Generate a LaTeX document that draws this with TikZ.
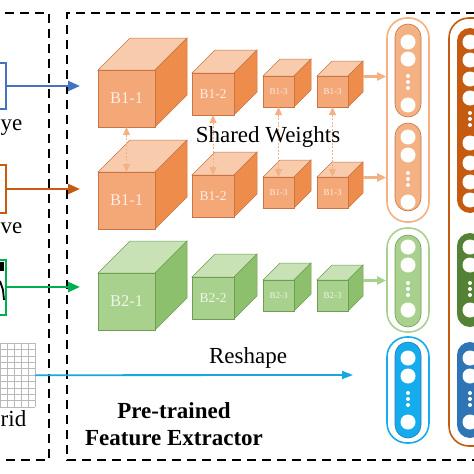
\documentclass[tikz,border=0pt]{standalone}
\usepackage{fontspec}
\setmainfont{Liberation Serif}
\usetikzlibrary{arrows.meta}

\definecolor{orF}{HTML}{F4A878}
\definecolor{orT}{HTML}{F8CBAD}
\definecolor{orS}{HTML}{EE8C4C}
\definecolor{orE}{HTML}{C97442}
\definecolor{orL}{HTML}{FDEDE2}
\definecolor{grF}{HTML}{A9D18E}
\definecolor{grT}{HTML}{C8E2B6}
\definecolor{grS}{HTML}{8DC06C}
\definecolor{grE}{HTML}{6F9E52}
\definecolor{grL}{HTML}{EEF6E8}
\definecolor{bevC}{HTML}{4472C4}
\definecolor{sideC}{HTML}{C55A11}
\definecolor{imgC}{HTML}{00B050}
\definecolor{gridC}{HTML}{1AA7E0}
\definecolor{ringO}{HTML}{F4B183}
\definecolor{ringG}{HTML}{A9D18E}
\definecolor{ringB}{HTML}{14ACEC}
\definecolor{fusO}{HTML}{C55A11}
\definecolor{fusG}{HTML}{548235}
\definecolor{fusB}{HTML}{2E75B6}

\def\TxtFont{\fontsize{23}{27}\selectfont}

\tikzset{
  pics/cube/.style n args={5}{
      code={
          \filldraw[fill=#3T, draw=#3E, line width=0.5pt] (0,0) -- (#2,-#2) -- (#1+#2,-#2) -- (#1,0) -- cycle;
          \filldraw[fill=#3S, draw=#3E, line width=0.5pt] (#1,0) -- (#1+#2,-#2) -- (#1+#2,#1-#2) -- (#1,#1) -- cycle;
          \filldraw[fill=#3F, draw=#3E, line width=0.5pt] (0,0) rectangle (#1,#1);
          \node[text=#3L, font=\fontsize{#4}{#4}\selectfont] (-lbl) at (#1/2,#1/2) {#5};
          \coordinate (-top) at (#1/2,0);
          \coordinate (-bot) at (#1/2,#1);
          \coordinate (-east) at (#1+#2,#1/2-#2);
        }},
  frame/.style={dash pattern=on 9pt off 6pt, line width=1.4pt},
  inbox/.style={minimum width=40pt, line width=2pt, inner sep=0pt},
  intxt/.style={anchor=west, inner sep=0pt, font=\TxtFont},
  feed/.style={line width=2.4pt, -{Triangle[length=12pt,width=10pt]}},
  link/.style={line width=2.2pt, -{Triangle[length=9pt,width=8pt]}},
  shared/.style={ringO, line width=1pt, dash pattern=on 2pt off 1.5pt,
      {Triangle[length=8pt,width=7pt]}-{Triangle[length=8pt,width=7pt]}},
  ring/.style={rounded corners=20pt, minimum width=42pt, inner sep=0pt, line width=1.6pt},
  pill/.style={rounded corners=13pt, minimum width=26pt, inner sep=0pt, line width=0.6pt},
  hole/.style={circle, fill=white, minimum size=15pt, inner sep=0pt},
  dot/.style={circle, fill=white, minimum size=4pt, inner sep=0pt},
  gridline/.style={gray!55, line width=0.6pt}
}

\begin{document}
\begin{tikzpicture}[x=1pt,y=-1pt]
        \useasboundingbox (0,0) rectangle (474,474);
        % dashed frames
        \draw[frame] (-10,13) -- (49,13) -- (49,460) -- (-10,460);
        \draw[frame] (490,13) -- (67,13) -- (67,460) -- (490,460);

        % inputs
        \node[inbox, draw=bevC, minimum height=46pt, anchor=east] (bev) at (7,86) {};
        \node[intxt] (bevtxt) at (0.5,128) {ye};
        \node[inbox, draw=sideC, minimum height=48pt, anchor=east] (side) at (7,189) {};
        \node[intxt] (sidetxt) at (0.5,228) {ve};
        \node[inbox, draw=imgC, minimum height=55pt, anchor=east] (img) at (7,287) {};
        \fill (-2,262) rectangle (4,271);
        \draw[line width=1.8pt] (0,281) -- (3,290) -- (4,300);
        \node[minimum width=35pt, minimum height=64pt, inner sep=0pt, anchor=north west] (grid) at (0,343) {};
        \foreach \i in {0,...,5} \draw[gridline] (7*\i,343) -- (7*\i,407);
        \foreach \j in {0,...,10} \draw[gridline] (0,343+6.4*\j) -- (35,343+6.4*\j);
        \node[intxt] (gridtxt) at (0.5,419) {rid};

        \coordinate (in1) at (80,86);
        \coordinate (in2) at (80,189);
        \coordinate (in3) at (80,287);
        \coordinate (rsend) at (353,375);
        \draw[feed, bevC] (bev.east) -- (in1);
        \draw[feed, sideC] (side.east) -- (in2);
        \draw[feed, imgC] (img.east) -- (in3);
        \draw[gridC, line width=1.8pt, -{Triangle[length=11pt,width=8pt]}] (grid.east) -- (rsend);
        \node[font=\TxtFont] (reshape) at (248,358) {Reshape};

        % backbone blocks
        \pic (u1) at (98,70) {cube={57}{32}{or}{16.5}{B1-1}};
        \pic (u2) at (192,73) {cube={42}{23}{or}{13.5}{B1-2}};
        \pic (u3) at (263,76) {cube={31}{17}{or}{9}{B1-3}};
        \pic (u4) at (317,76) {cube={31}{15}{or}{9}{B1-3}};
        \pic (m1) at (98,172) {cube={57}{32}{or}{16.5}{B1-1}};
        \pic (m2) at (192,175) {cube={42}{23}{or}{13.5}{B1-2}};
        \pic (m3) at (263,177) {cube={31}{17}{or}{9}{B1-3}};
        \pic (m4) at (317,177) {cube={31}{15}{or}{9}{B1-3}};
        \pic (b1) at (98,273) {cube={57}{32}{gr}{16.5}{B2-1}};
        \pic (b2) at (192,277) {cube={42}{23}{gr}{13.5}{B2-2}};
        \pic (b3) at (263,280) {cube={31}{17}{gr}{9}{B2-3}};
        \pic (b4) at (317,280) {cube={31}{15}{gr}{9}{B2-3}};
        \foreach \k in {1,...,4} \draw[shared] (u\k-bot) -- (m\k-top);
        \node[font=\TxtFont] (sw) at (268,137) {Shared Weights};
        \node[font=\TxtFont\bfseries, align=center] (fe) at (174,424) {Pre-trained\\Feature Extractor};

        % feature vectors
        \node[ring, draw=ringO, minimum height=204pt] (vo) at (408,120) {};
        \node[pill, fill=ringO, draw=orE, minimum height=93pt] (vo1) at (408,70.5) {};
        \node[pill, fill=ringO, draw=orE, minimum height=88pt] (vo2) at (408,167) {};
        \node[ring, draw=ringG, minimum height=104pt] (vg) at (408,280) {};
        \node[pill, fill=ringG, draw=grE, minimum height=92pt] (vg1) at (408,281) {};
        \node[ring, draw=ringB, minimum height=106pt] (vb) at (408,390) {};
        \node[pill, fill=ringB, draw=fusB, minimum height=96pt] (vb1) at (408,390) {};
        \foreach \y in {42,59,105,137,155,202,247,265,310,358,376,422}
          \node[hole] (vh\y) at (408,\y) {};
        \foreach \y in {76,82,88,173,179,185,283,289,295,393,399,405}
          \node[dot] (vd\y) at (408,\y) {};
        \draw[link, ringO] (u4-east) -- (u4-east -| vo.west);
        \draw[link, ringO] (m4-east) -- (m4-east -| vo.west);
        \draw[link, ringG] (b4-east) -- (b4-east -| vg.west);

        % fused vector
        \node[ring, draw=fusO, minimum width=60pt, minimum height=428pt] (fu) at (479,232) {};
        \node[pill, fill=fusO, minimum height=185pt] (fu1) at (470,120.5) {};
        \node[pill, fill=fusG, minimum height=94pt] (fu2) at (470,280) {};
        \node[pill, fill=fusB, minimum height=96pt] (fu3) at (470,390) {};
        \foreach \y in {42,60,79,98,143,163,182,200,247,265,310,358,376,422}
          \node[hole] (fh\y) at (470,\y) {};
        \foreach \y in {113,119,125,283,289,295,393,399,405}
          \node[dot] (fd\y) at (470,\y) {};
      \end{tikzpicture}
\end{document}
